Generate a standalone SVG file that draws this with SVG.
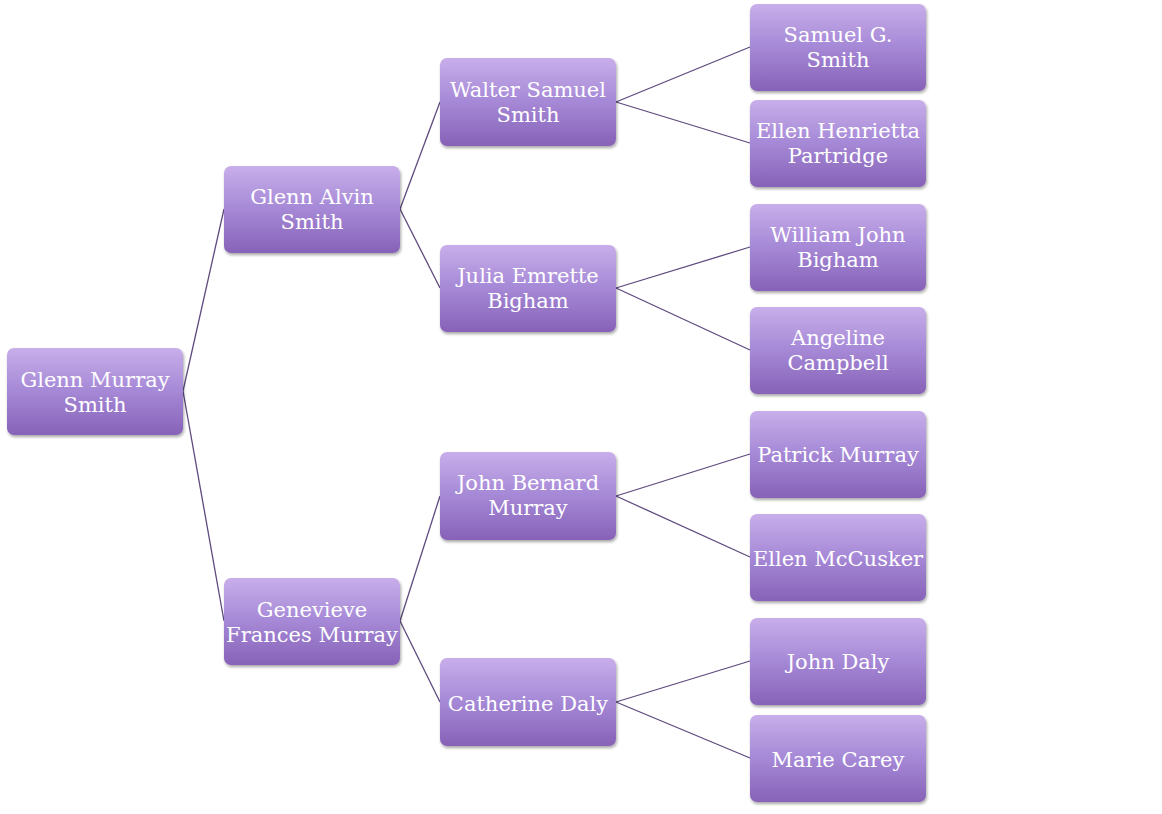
<svg xmlns="http://www.w3.org/2000/svg" width="1162" height="814" viewBox="0 0 1162 814">
<defs>
<linearGradient id="g" x1="0" y1="0" x2="0" y2="1"><stop offset="0" stop-color="#c8aeea"/><stop offset="0.5" stop-color="#a588d6"/><stop offset="1" stop-color="#8762b8"/></linearGradient>
<filter id="s" x="-10%" y="-10%" width="130%" height="130%"><feDropShadow dx="1" dy="2" stdDeviation="1.5" flood-color="#000" flood-opacity="0.35"/></filter>
</defs>
<style>
rect{fill:url(#g);filter:url(#s)}
text{fill:#fff;font-family:"DejaVu Serif","Liberation Serif",serif;font-size:21px;text-anchor:middle}
.c line{stroke:#5e4a7e;stroke-width:1.3}
</style>
<rect x="0" y="0" width="1162" height="814" style="fill:#fff;filter:none"/>
<g class="c">
<line x1="183" y1="391" x2="224" y2="209"/><line x1="183" y1="391" x2="224" y2="621"/>
<line x1="400" y1="209" x2="440" y2="102"/><line x1="400" y1="209" x2="440" y2="288"/>
<line x1="400" y1="621" x2="440" y2="496"/><line x1="400" y1="621" x2="440" y2="702"/>
<line x1="616" y1="102" x2="750" y2="47"/><line x1="616" y1="102" x2="750" y2="143"/>
<line x1="616" y1="288" x2="750" y2="247"/><line x1="616" y1="288" x2="750" y2="350"/>
<line x1="616" y1="496" x2="750" y2="454"/><line x1="616" y1="496" x2="750" y2="557"/>
<line x1="616" y1="702" x2="750" y2="661"/><line x1="616" y1="702" x2="750" y2="758"/>
</g>
<g id="n0"><rect x="7" y="348" width="176" height="87" rx="7"/><text x="95" y="387">Glenn Murray</text><text x="95" y="412">Smith</text></g>
<g id="n1"><rect x="224" y="166" width="176" height="87" rx="7"/><text x="312" y="204">Glenn Alvin</text><text x="312" y="229">Smith</text></g>
<g id="n2"><rect x="224" y="578" width="176" height="87" rx="7"/><text x="312" y="617">Genevieve</text><text x="312" y="642">Frances Murray</text></g>
<g id="n3"><rect x="440" y="58" width="176" height="88" rx="7"/><text x="528" y="97">Walter Samuel</text><text x="528" y="122">Smith</text></g>
<g id="n4"><rect x="440" y="245" width="176" height="87" rx="7"/><text x="528" y="283">Julia Emrette</text><text x="528" y="308">Bigham</text></g>
<g id="n5"><rect x="440" y="452" width="176" height="88" rx="7"/><text x="528" y="490">John Bernard</text><text x="528" y="515">Murray</text></g>
<g id="n6"><rect x="440" y="658" width="176" height="88" rx="7"/><text x="528" y="711">Catherine Daly</text></g>
<g id="n7"><rect x="750" y="4" width="176" height="87" rx="7"/><text x="838" y="42">Samuel G.</text><text x="838" y="67">Smith</text></g>
<g id="n8"><rect x="750" y="100" width="176" height="87" rx="7"/><text x="838" y="138">Ellen Henrietta</text><text x="838" y="163">Partridge</text></g>
<g id="n9"><rect x="750" y="204" width="176" height="87" rx="7"/><text x="838" y="242">William John</text><text x="838" y="267">Bigham</text></g>
<g id="n10"><rect x="750" y="307" width="176" height="87" rx="7"/><text x="838" y="345">Angeline</text><text x="838" y="370">Campbell</text></g>
<g id="n11"><rect x="750" y="411" width="176" height="87" rx="7"/><text x="838" y="462">Patrick Murray</text></g>
<g id="n12"><rect x="750" y="514" width="176" height="87" rx="7"/><text x="838" y="566">Ellen McCusker</text></g>
<g id="n13"><rect x="750" y="618" width="176" height="87" rx="7"/><text x="838" y="669">John Daly</text></g>
<g id="n14"><rect x="750" y="715" width="176" height="87" rx="7"/><text x="838" y="767">Marie Carey</text></g>
</svg>
